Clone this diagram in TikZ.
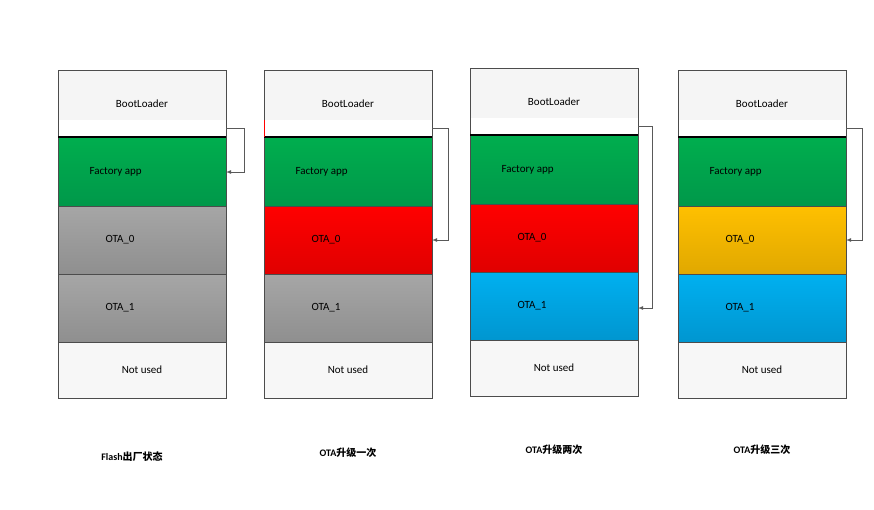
\documentclass[tikz,border=0pt]{standalone}
\usepackage{fontspec}
\setmainfont{Carlito}
\newfontfamily\cjk{Noto Sans CJK SC}
\begin{document}
\begin{tikzpicture}[x=1pt,y=-1pt,
  blk/.style={draw=black!70,line width=0.6pt},
  lbl/.style={font=\fontsize{11}{13}\selectfont,anchor=west},
  captxt/.style={font=\fontsize{10}{12}\selectfont\bfseries},
  arr/.style={draw=black!65,line width=0.8pt,-latex}]
\useasboundingbox (0,0) rectangle (874,509);
\definecolor{gA}{HTML}{00AE4E}\definecolor{gB}{HTML}{00984A}
\definecolor{grA}{HTML}{A6A6A6}\definecolor{grB}{HTML}{8F8F8F}
\definecolor{rA}{HTML}{FF0000}\definecolor{rB}{HTML}{E00000}
\definecolor{bA}{HTML}{00B0F0}\definecolor{bB}{HTML}{0096D0}
\definecolor{yA}{HTML}{FFC000}\definecolor{yB}{HTML}{E0A800}
\newcommand{\col}[9]{%
  \begin{scope}[yshift=#2]
  \fill[white] (#1,70) rectangle ++(168,67);
  \fill[black!4] (#1,70) rectangle ++(168,50);
  \node[lbl,anchor=center] at (#1+84,104) {BootLoader};
  \shade[top color=gA,bottom color=gB] (#1,137) rectangle ++(168,69);
  \node[lbl] (#7f) at (#1+28,172) {Factory app};
  \shade[top color=#3,bottom color=#4] (#1,206) rectangle ++(168,68);
  \node[lbl] at (#1+44,240) {OTA\_0};
  \shade[top color=#5,bottom color=#6] (#1,274) rectangle ++(168,68);
  \node[lbl] at (#1+44,308) {OTA\_1};
  \fill[black!3] (#1,342) rectangle ++(168,56);
  \node[lbl,anchor=center] at (#1+84,370) {Not used};
  \draw[blk] (#1,70) rectangle ++(168,328);
  \draw[blk] (#1,206) -- ++(168,0) (#1,274) -- ++(168,0) (#1,342) -- ++(168,0);
  \draw[black,line width=1.2pt] (#1,137) -- ++(168,0);
  \coordinate (#7s) at (#1+168,128);
  \coordinate (#7e) at (#1+168,#8);
  \draw[arr] (#7s) -- (#9,128) -- (#9,#8) -- (#7e);
  \end{scope}}
\col{58}{0}{grA}{grB}{grA}{grB}{a}{172}{244}
\col{264}{0}{rA}{rB}{grA}{grB}{b}{240}{448}
\col{470}{2pt}{rA}{rB}{bA}{bB}{c}{310}{652}
\col{678}{0}{yA}{yB}{bA}{bB}{d}{240}{862}
\draw[rA,line width=1.5pt] (264.5,120) -- (264.5,137);
\node[captxt] (ca) at (132,457) {Flash{\cjk 出厂状态}};
\node[captxt] (cb) at (348,453) {OTA{\cjk 升级一次}};
\node[captxt] (cc) at (554,450) {OTA{\cjk 升级两次}};
\node[captxt] (cd) at (762,450) {OTA{\cjk 升级三次}};
\end{tikzpicture}
\end{document}
